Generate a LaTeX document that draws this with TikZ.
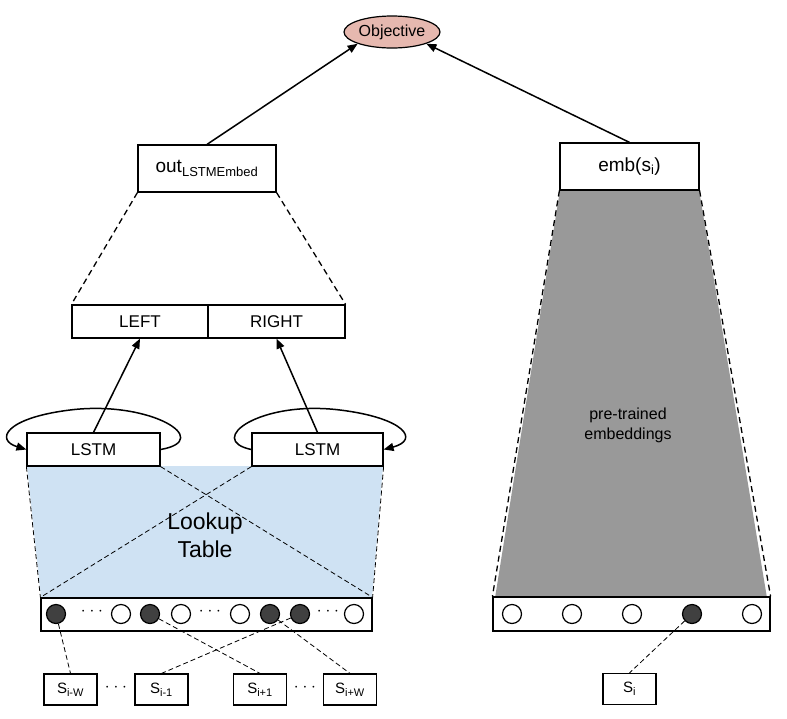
\documentclass[tikz,border=0pt]{standalone}
\usepackage{fontspec}
\setmainfont{Liberation Sans}
\usetikzlibrary{arrows.meta,shapes.geometric}
\definecolor{objc}{RGB}{230,184,175}
\definecolor{lblue}{RGB}{207,226,243}
\begin{document}
\begin{tikzpicture}[x=1pt,y=-1pt,
  box/.style={draw,line width=1.2pt,fill=white,inner sep=0pt,font=\fontsize{17}{19}\selectfont},
  sbox/.style={draw,line width=1.2pt,fill=white,minimum width=53pt,minimum height=31pt,inner sep=0pt,font=\fontsize{15}{17}\selectfont},
  arr/.style={line width=1.5pt,-{Triangle[length=10pt,width=8pt]}},
  dsh/.style={dash pattern=on 5pt off 3pt,line width=0.8pt},
  dshb/.style={dash pattern=on 6pt off 4pt,line width=1.3pt},
  oc/.style={circle,draw,line width=1.2pt,fill=white,minimum size=19pt,inner sep=0pt},
  fc/.style={oc,fill=black!75},
  dots/.style={font=\fontsize{16}{16}\selectfont}]
\useasboundingbox (0,0) rectangle (787,718);
% objective
\node[ellipse,draw,line width=1.2pt,fill=objc,minimum width=96pt,minimum height=32pt,inner sep=0pt,font=\fontsize{16}{18}\selectfont] (obj) at (392,32) {Objective};
% shaded regions
\fill[lblue] (27,466) -- (383,466) -- (372,598) -- (41,598) -- cycle;
\fill[black!40] (560,190) -- (699,190) -- (767,598) -- (495,598) -- cycle;
% boxes
\node[box,minimum width=138pt,minimum height=47pt,font=\fontsize{19}{21}\selectfont] (out) at (207,168.5) {out\textsubscript{\fontsize{13}{13}\selectfont LSTMEmbed}};
\node[box,minimum width=139pt,minimum height=47pt,font=\fontsize{19}{21}\selectfont] (emb) at (629.5,166.5) {emb(s\textsubscript{\fontsize{13}{13}\selectfont i})};
\node[box,minimum width=136pt,minimum height=33pt] (left) at (140,321.5) {LEFT};
\node[box,minimum width=137pt,minimum height=33pt] (right) at (276.5,321.5) {RIGHT};
\node[box,minimum width=133pt,minimum height=33pt] (lstmL) at (93.5,449.5) {LSTM};
\node[box,minimum width=131pt,minimum height=33pt] (lstmR) at (317.5,449.5) {LSTM};
\node[box,minimum width=331pt,minimum height=33pt] (lt) at (206.5,614.5) {};
\node[box,minimum width=277pt,minimum height=34pt] (rt) at (631.5,614) {};
% dashed edges
\draw[dshb] (out.south west) -- (left.north west);
\draw[dshb] (out.south east) -- (right.north east);
\draw[dsh] (lstmL.south west) -- (lt.north west);
\draw[dsh] (lstmR.south east) -- (lt.north east);
\draw[dsh] (lstmL.south east) -- (lt.north east);
\draw[dsh] (lstmR.south west) -- (lt.north west);
\draw[dshb] (emb.south west) -- (rt.north west);
\draw[dshb] (emb.south east) -- (rt.north east);
% texts
\node[align=center,font=\fontsize{16}{20}\selectfont] (pte) at (628,425) {pre-trained\\embeddings};
\node[align=center,font=\fontsize{23}{28}\selectfont] (ltab) at (205,535) {Lookup\\Table};
% arrows
\draw[arr] (out.north) -- (obj.south west);
\draw[arr] (emb.north) -- (obj.south east);
\draw[arr] (lstmL.north) -- (left.south);
\draw[arr] (lstmR.north) -- (right.south);
\draw[arr] (lstmL.east) .. controls (215,440) and (150,400) .. (70,410) .. controls (5,418) and (-5,440) .. (lstmL.west);
\draw[arr] (lstmR.west) .. controls (205,440) and (260,400) .. (340,410) .. controls (405,418) and (420,440) .. (lstmR.east);
% circles left
\node[fc] (c1) at (56,614) {};
\node[dots] at (92,612) {$\cdot\cdot\cdot$};
\node[oc] (c2) at (121,614) {};
\node[fc] (c3) at (150,614) {};
\node[oc] (c4) at (181,614) {};
\node[dots] at (210,612) {$\cdot\cdot\cdot$};
\node[oc] (c5) at (240,614) {};
\node[fc] (c6) at (270,614) {};
\node[fc] (c7) at (300,614) {};
\node[dots] at (328,612) {$\cdot\cdot\cdot$};
\node[oc] (c8) at (354,614) {};
% circles right
\node[oc] (r1) at (512,614) {};
\node[oc] (r2) at (572,614) {};
\node[oc] (r3) at (632,614) {};
\node[fc] (r4) at (692,614) {};
\node[oc] (r5) at (752,614) {};
% s boxes
\node[sbox] (s1) at (70.5,689.5) {S\textsubscript{\fontsize{11}{11}\selectfont i-W}};
\node[dots] at (116,688) {$\cdot\cdot\cdot$};
\node[sbox] (s2) at (161.5,689.5) {S\textsubscript{\fontsize{11}{11}\selectfont i-1}};
\node[sbox] (s3) at (260,689.5) {S\textsubscript{\fontsize{11}{11}\selectfont i+1}};
\node[dots] at (305,688) {$\cdot\cdot\cdot$};
\node[sbox] (s4) at (350,689.5) {S\textsubscript{\fontsize{11}{11}\selectfont i+W}};
\node[sbox] (s5) at (629.5,689) {S\textsubscript{\fontsize{11}{11}\selectfont i}};
% s links
\draw[dsh] (c1) -- (s1.north);
\draw[dsh] (c3) -- (s3.north);
\draw[dsh] (c7) -- (s2.north);
\draw[dsh] (c6) -- (s4.north);
\draw[dsh] (r4) -- (s5.north);
\end{tikzpicture}
\end{document}
